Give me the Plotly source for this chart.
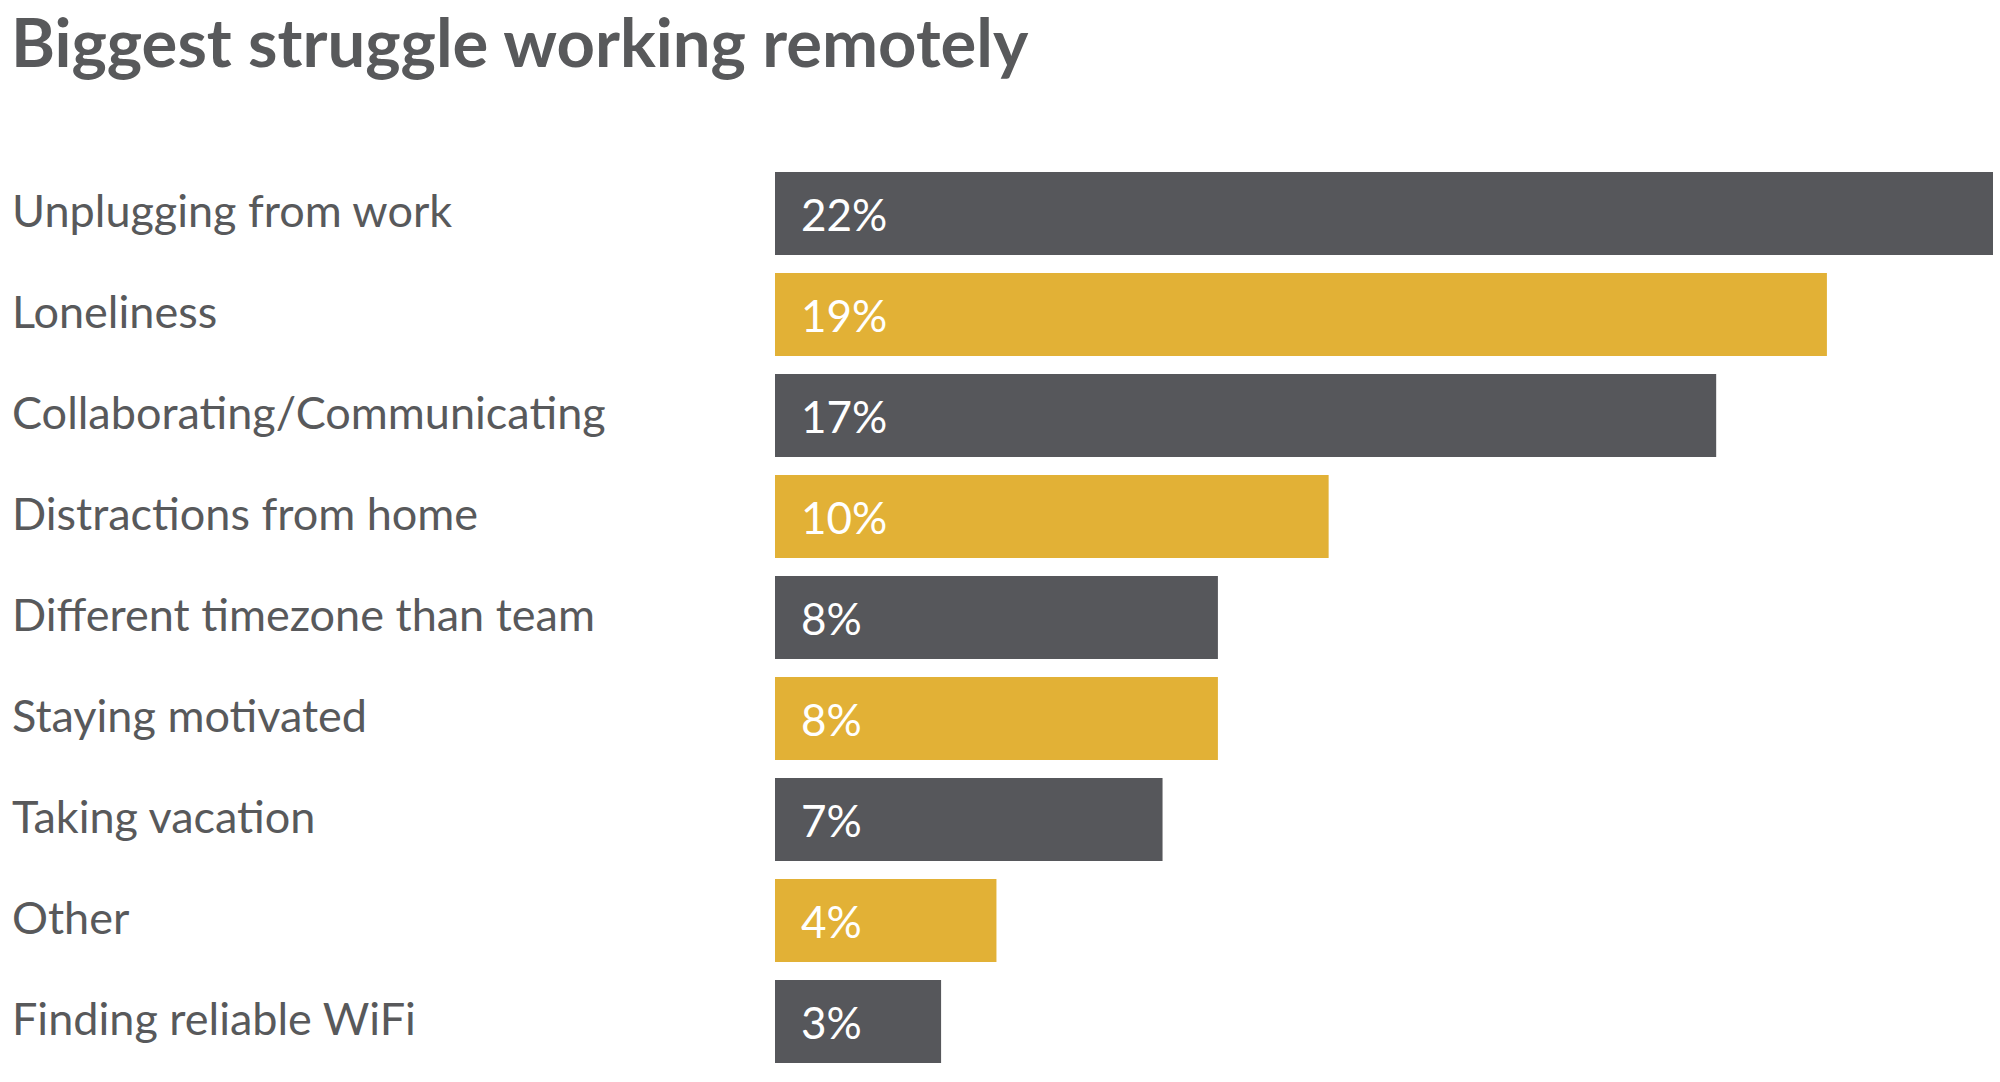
import plotly.graph_objects as go

categories = ["Unplugging from work", "Loneliness", "Collaborating/Communicating",
              "Distractions from home", "Different timezone than team", "Staying motivated",
              "Taking vacation", "Other", "Finding reliable WiFi"]
values = [22, 19, 17, 10, 8, 8, 7, 4, 3]
value_labels = ["22%", "19%", "17%", "10%", "8%", "8%", "7%", "4%", "3%"]
title_text = "Biggest struggle working remotely"

DARK = "#56575b"
GOLD = "#e2b136"
TEXT = "#58595b"
FONT = "Lato"

colors = [DARK if i % 2 == 0 else GOLD for i in range(len(categories))]

fig = go.Figure(go.Bar(
    x=values, y=categories, orientation="h",
    marker=dict(color=colors, line=dict(width=0)),
    hoverinfo="skip",
))

L, R, T, B = 775, 7, 163, 10
W, H = 2000, 1082
plot_w = W - L - R
plot_h = H - T - B

annotations = [dict(x=(10 - L) / plot_w, y=1 + T / plot_h, xref="paper", yref="paper",
                    text="<b>" + title_text + "</b>", showarrow=False,
                    xanchor="left", yanchor="top", borderpad=0,
                    font=dict(family=FONT, size=67, color=TEXT))]
for cat, lab in zip(categories, value_labels):
    annotations.append(dict(x=0, y=cat, xref="x", yref="y", text=lab, showarrow=False,
                            xanchor="left", yanchor="middle", xshift=24,
                            font=dict(family=FONT, size=44, color="white")))
    annotations.append(dict(x=(10 - L) / plot_w, y=cat, xref="paper", yref="y", text=cat,
                            showarrow=False, xanchor="left", yanchor="middle", yshift=4,
                            font=dict(family=FONT, size=45, color=TEXT)))

fig.update_layout(
    width=W, height=H,
    margin=dict(l=L, r=R, t=T, b=B),
    paper_bgcolor="white", plot_bgcolor="white",
    bargap=0.18,
    showlegend=False,
    xaxis=dict(range=[0, 22], visible=False, fixedrange=True),
    yaxis=dict(autorange="reversed", visible=False, fixedrange=True),
    annotations=annotations,
)

fig.write_html("out.html")
